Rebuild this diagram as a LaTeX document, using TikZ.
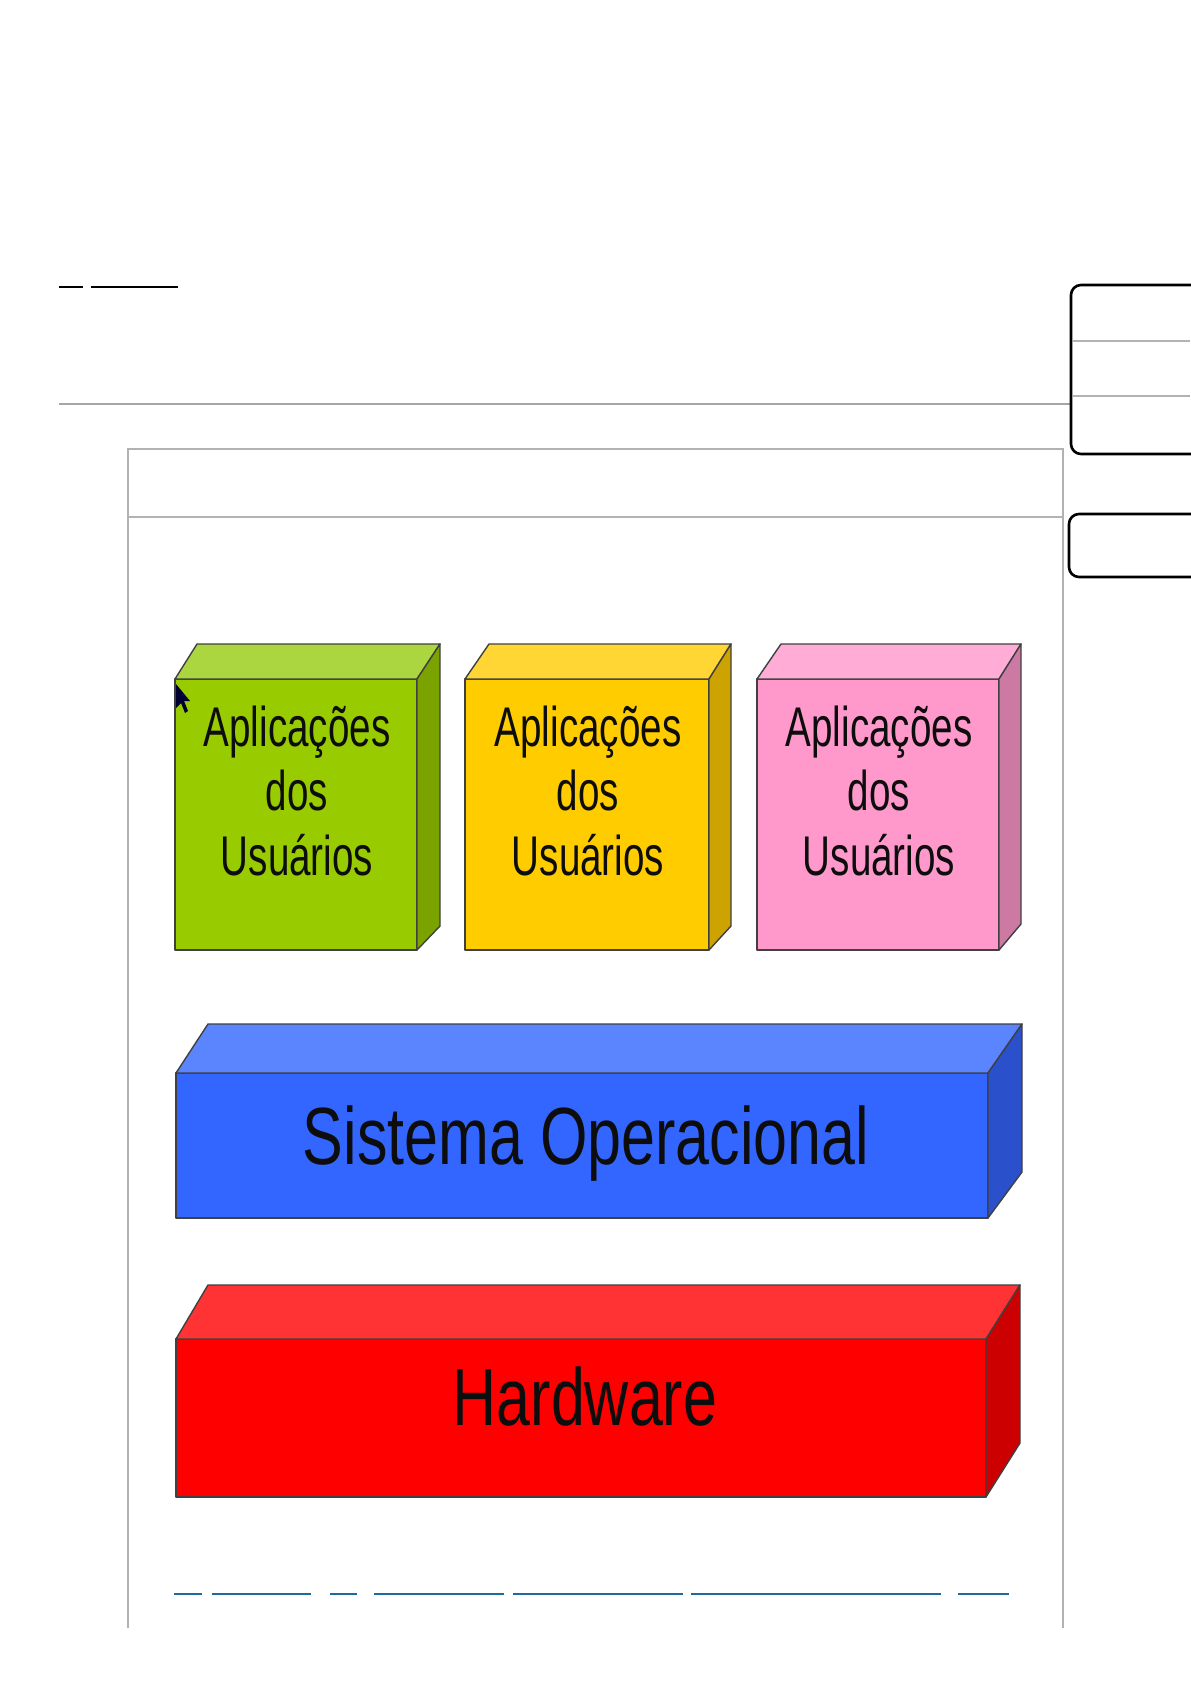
\documentclass[tikz,border=0pt]{standalone}
\usepackage{fontspec}
\setmainfont{Liberation Sans}
\usepackage{graphicx}
\usetikzlibrary{positioning}

\definecolor{verde}{HTML}{99CC00}
\definecolor{verdeTopo}{HTML}{ACD63F}
\definecolor{verdeLado}{HTML}{7AA300}
\definecolor{amarelo}{HTML}{FFCC00}
\definecolor{amareloTopo}{HTML}{FFD633}
\definecolor{amareloLado}{HTML}{CCA300}
\definecolor{rosa}{HTML}{FF99CC}
\definecolor{rosaTopo}{HTML}{FFADD6}
\definecolor{rosaLado}{HTML}{CC7AA3}
\definecolor{azul}{HTML}{3366FF}
\definecolor{azulTopo}{HTML}{5A85FF}
\definecolor{azulLado}{HTML}{2A50CC}
\definecolor{vermelho}{HTML}{FF0000}
\definecolor{vermelhoTopo}{HTML}{FF3333}
\definecolor{vermelhoLado}{HTML}{CC0000}
\definecolor{linkazul}{HTML}{1C6B9C}

\tikzset{face/.style = {draw=black!75, line width=0.7pt, line join=round},
         moldura/.style = {draw=black!30, line width=0.6pt},
         aba/.style = {draw=black, line width=1.3pt, rounded corners=5pt},
         rotulo/.style = {inner sep=0pt, text=black!95},
         pequeno/.style = {rotulo, font=\fontsize{19.3}{22.2}\selectfont},
         grande/.style = {rotulo, font=\fontsize{30.5}{36}\selectfont}}

\begin{document}
\begin{tikzpicture}[x=0.5pt,y=-0.5pt]
    \useasboundingbox (0,0) rectangle (1190,1684);
    \fill[white] (0,0) rectangle (1190,1684);

    % cabecalho da pagina
    \draw[line width=1pt] (59,287) -- (83,287);
    \draw[line width=1pt] (91,287) -- (178,287);
    \draw[draw=black!35, line width=1pt] (59,404) -- (1072,404);

    % abas na margem direita
    \draw[aba] (1200,285) -- (1071,285) -- (1071,454) -- (1200,454);
    \draw[moldura] (1073,341) -- (1190,341);
    \draw[moldura] (1073,396) -- (1190,396);
    \draw[aba] (1200,514) -- (1069,514) -- (1069,577) -- (1200,577);

    % moldura da figura
    \draw[moldura] (128,1628) -- (128,449) -- (1063,449) -- (1063,1628);
    \draw[moldura] (128,517) -- (1063,517);

    % caixa verde
    \begin{scope}
        \fill[verde, face] (175,679) rectangle (417,950);
        \fill[verdeTopo, face] (175,679) -- (197,644) -- (440,644) -- (417,679) -- cycle;
        \fill[verdeLado, face] (417,679) -- (440,644) -- (440,926) -- (417,950) -- cycle;
        \node [pequeno] (app1) at (297,798)
            {\scalebox{1}[1.45]{\begin{tabular}{@{}c@{}}Aplicações\\dos\\Usuários\end{tabular}}};
    \end{scope}

    % caixa amarela
    \begin{scope}
        \fill[amarelo, face] (465,679) rectangle (709,950);
        \fill[amareloTopo, face] (465,679) -- (489,644) -- (731,644) -- (709,679) -- cycle;
        \fill[amareloLado, face] (709,679) -- (731,644) -- (731,926) -- (709,950) -- cycle;
        \node [pequeno] (app2) at (588,798)
            {\scalebox{1}[1.45]{\begin{tabular}{@{}c@{}}Aplicações\\dos\\Usuários\end{tabular}}};
    \end{scope}

    % caixa rosa
    \begin{scope}
        \fill[rosa, face] (757,679) rectangle (999,950);
        \fill[rosaTopo, face] (757,679) -- (781,644) -- (1021,644) -- (999,679) -- cycle;
        \fill[rosaLado, face] (999,679) -- (1021,644) -- (1021,924) -- (999,950) -- cycle;
        \node [pequeno] (app3) at (879,798)
            {\scalebox{1}[1.45]{\begin{tabular}{@{}c@{}}Aplicações\\dos\\Usuários\end{tabular}}};
    \end{scope}

    % ponteiro do mouse
    \fill[black!80!blue] (176,684) -- (176,708) -- (181,703) -- (185,713) -- (188,711)
        -- (184,701) -- (190,701) -- cycle;

    % sistema operacional
    \begin{scope}
        \fill[azul, face] (176,1073) rectangle (988,1218);
        \fill[azulTopo, face] (176,1073) -- (208,1024) -- (1022,1024) -- (988,1073) -- cycle;
        \fill[azulLado, face] (988,1073) -- (1022,1024) -- (1022,1172) -- (988,1218) -- cycle;
        \node [grande, anchor=base] (so) at (586,1164)
            {\scalebox{1}[1.33]{Sistema Operacional}};
    \end{scope}

    % hardware
    \begin{scope}
        \fill[vermelho, face] (176,1339) rectangle (986,1497);
        \fill[vermelhoTopo, face] (176,1339) -- (208,1285) -- (1020,1285) -- (986,1339) -- cycle;
        \fill[vermelhoLado, face] (986,1339) -- (1020,1285) -- (1020,1443) -- (986,1497) -- cycle;
        \node [grande, anchor=base] (hw) at (585,1425)
            {\scalebox{1}[1.33]{Hardware}};
    \end{scope}

    % sublinhado do link
    \foreach \a/\b in {174/202, 212/311, 330/357, 374/504, 513/683, 691/941, 958/1009}
        \draw[linkazul, line width=1pt] (\a,1594) -- (\b,1594);
\end{tikzpicture}
\end{document}
